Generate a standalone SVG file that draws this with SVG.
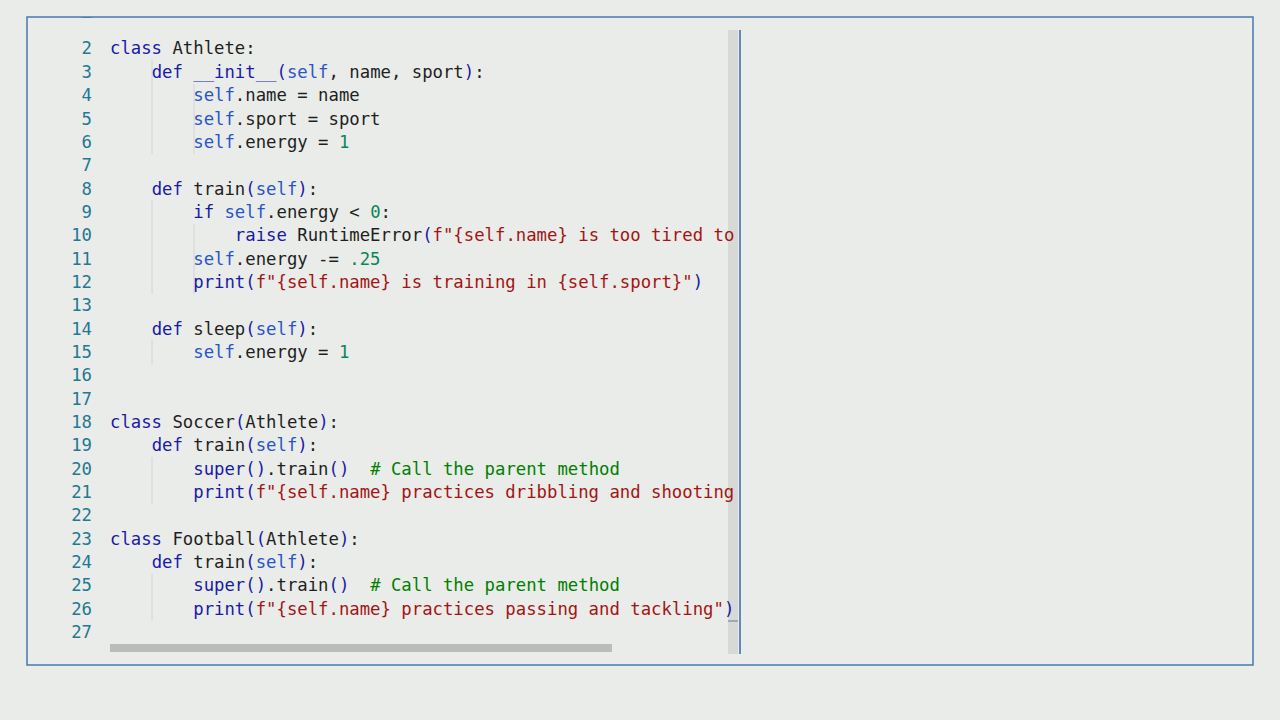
<svg xmlns="http://www.w3.org/2000/svg" width="1280" height="720" viewBox="0 0 1280 720">
<style>
text{font-family:"DejaVu Sans Mono",monospace;font-size:17.3px;white-space:pre}
.n{fill:#237893;text-anchor:end}
.c{fill:#1f1f1f}
.k{fill:#1a1aa6}
.s{fill:#2a55c8}
.st{fill:#a31515}
.num{fill:#098658}
.cm{fill:#008000}
</style>
<defs><clipPath id="cp"><rect x="100" y="28" width="636" height="620"/></clipPath></defs>
<rect width="1280" height="720" fill="#e9ece8"/>
<rect x="27" y="17" width="1226" height="648" fill="#e9ece8" stroke="#4a78b0" stroke-width="1.5"/>
<rect x="728" y="30" width="10" height="624" fill="#d6d9d5"/>
<line x1="740" y1="30" x2="740" y2="654" stroke="#3a64b0" stroke-width="1.5"/>
<rect x="110" y="644" width="502" height="8" fill="#b9bcb8"/>
<line x1="728" y1="621" x2="738" y2="621" stroke="#6a7a90" stroke-width="1"/>
<g stroke="#d2d6d2" stroke-width="1"><line x1="152" y1="60" x2="152" y2="154"/><line x1="194" y1="84" x2="194" y2="154"/><line x1="152" y1="200" x2="152" y2="294"/><line x1="194" y1="224" x2="194" y2="294"/><line x1="152" y1="340" x2="152" y2="364"/><line x1="152" y1="457" x2="152" y2="504"/><line x1="152" y1="574" x2="152" y2="620"/></g>
<g id="numbers">
<text class="n" x="92" y="31" font-size="10">‾</text>
<text class="n" x="92" y="54">2</text><text class="n" x="92" y="77.5">3</text><text class="n" x="92" y="101">4</text><text class="n" x="92" y="124.5">5</text><text class="n" x="92" y="148">6</text><text class="n" x="92" y="171">7</text><text class="n" x="92" y="194.5">8</text><text class="n" x="92" y="218">9</text><text class="n" x="92" y="241">10</text><text class="n" x="92" y="264.5">11</text><text class="n" x="92" y="288">12</text><text class="n" x="92" y="311">13</text><text class="n" x="92" y="334.5">14</text><text class="n" x="92" y="358">15</text><text class="n" x="92" y="381">16</text><text class="n" x="92" y="404.5">17</text><text class="n" x="92" y="428">18</text><text class="n" x="92" y="451">19</text><text class="n" x="92" y="474.5">20</text><text class="n" x="92" y="498">21</text><text class="n" x="92" y="521">22</text><text class="n" x="92" y="544.5">23</text><text class="n" x="92" y="568">24</text><text class="n" x="92" y="591">25</text><text class="n" x="92" y="614.5">26</text><text class="n" x="92" y="638" fill="#1f1f1f">27</text>
</g>
<g id="code" clip-path="url(#cp)">
<text x="110" y="54" class="c"><tspan class="k">class</tspan> Athlete:</text>
<text x="110" y="77.5" class="c">    <tspan class="k">def</tspan> <tspan class="k">__init__</tspan><tspan class="k">(</tspan><tspan class="s">self</tspan>, name, sport<tspan class="k">)</tspan>:</text>
<text x="110" y="101" class="c">        <tspan class="s">self</tspan>.name = name</text>
<text x="110" y="124.5" class="c">        <tspan class="s">self</tspan>.sport = sport</text>
<text x="110" y="148" class="c">        <tspan class="s">self</tspan>.energy = <tspan class="num">1</tspan></text>
<text x="110" y="194.5" class="c">    <tspan class="k">def</tspan> train<tspan class="k">(</tspan><tspan class="s">self</tspan><tspan class="k">)</tspan>:</text>
<text x="110" y="218" class="c">        <tspan class="k">if</tspan> <tspan class="s">self</tspan>.energy &lt; <tspan class="num">0</tspan>:</text>
<text x="110" y="241" class="c">            <tspan class="k">raise</tspan> RuntimeError<tspan class="k">(</tspan><tspan class="st">f"{self.name} is too tired to train")</tspan></text>
<text x="110" y="264.5" class="c">        <tspan class="s">self</tspan>.energy -= <tspan class="num">.25</tspan></text>
<text x="110" y="288" class="c">        <tspan class="k">print</tspan><tspan class="k">(</tspan><tspan class="st">f"{self.name} is training in {self.sport}"</tspan><tspan class="k">)</tspan></text>
<text x="110" y="334.5" class="c">    <tspan class="k">def</tspan> sleep<tspan class="k">(</tspan><tspan class="s">self</tspan><tspan class="k">)</tspan>:</text>
<text x="110" y="358" class="c">        <tspan class="s">self</tspan>.energy = <tspan class="num">1</tspan></text>
<text x="110" y="428" class="c"><tspan class="k">class</tspan> Soccer<tspan class="k">(</tspan>Athlete<tspan class="k">)</tspan>:</text>
<text x="110" y="451" class="c">    <tspan class="k">def</tspan> train<tspan class="k">(</tspan><tspan class="s">self</tspan><tspan class="k">)</tspan>:</text>
<text x="110" y="474.5" class="c">        <tspan class="k">super</tspan><tspan class="k">()</tspan>.train<tspan class="k">()</tspan>  <tspan class="cm"># Call the parent method</tspan></text>
<text x="110" y="498" class="c">        <tspan class="k">print</tspan><tspan class="k">(</tspan><tspan class="st">f"{self.name} practices dribbling and shooting")</tspan></text>
<text x="110" y="544.5" class="c"><tspan class="k">class</tspan> Football<tspan class="k">(</tspan>Athlete<tspan class="k">)</tspan>:</text>
<text x="110" y="568" class="c">    <tspan class="k">def</tspan> train<tspan class="k">(</tspan><tspan class="s">self</tspan><tspan class="k">)</tspan>:</text>
<text x="110" y="591" class="c">        <tspan class="k">super</tspan><tspan class="k">()</tspan>.train<tspan class="k">()</tspan>  <tspan class="cm"># Call the parent method</tspan></text>
<text x="110" y="614.5" class="c">        <tspan class="k">print</tspan><tspan class="k">(</tspan><tspan class="st">f"{self.name} practices passing and tackling"</tspan><tspan class="k">)</tspan></text>
</g>
</svg>
